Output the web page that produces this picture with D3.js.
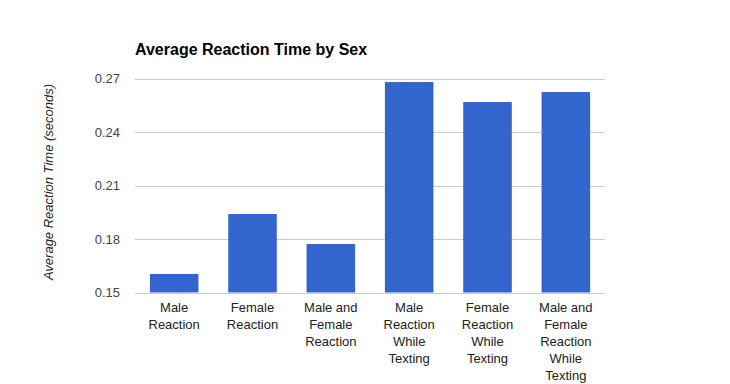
<html>
<style>
    body { margin: 0; background: #fff; }
    text { font-family: Arial, "Liberation Sans", sans-serif; }
</style>
<body>
<script src="https://d3js.org/d3.v7.min.js"></script>
<script>
// data
const categories = [
    "Male Reaction",
    "Female Reaction",
    "Male and Female Reaction",
    "Male Reaction While Texting",
    "Female Reaction While Texting",
    "Male and Female Reaction While Texting"
];
// wrapped x labels as they appear
const labelLines = [
    ["Male", "Reaction"],
    ["Female", "Reaction"],
    ["Male and", "Female", "Reaction"],
    ["Male", "Reaction", "While", "Texting"],
    ["Female", "Reaction", "While", "Texting"],
    ["Male and", "Female", "Reaction", "While", "Texting"]
];
const values = [0.1604, 0.1940, 0.1772, 0.2680, 0.2568, 0.2624];
const yTicks = [0.15, 0.18, 0.21, 0.24, 0.27];

const W = 730, H = 384;
const plot = {left: 135, right: 605, top: 78.5, bottom: 292.5};

const svg = d3.select("body").append("svg")
    .attr("width", W)
    .attr("height", H);

const x = d3.scaleBand().domain(categories)
    .range([plot.left, plot.right])
    .paddingInner(0.38).paddingOuter(0.19);
const y = d3.scaleLinear().domain([0.15, 0.27]).range([plot.bottom, plot.top]);

// title
svg.append("text")
    .attr("x", 135).attr("y", 55)
    .attr("font-size", 16).attr("font-weight", "bold")
    .attr("fill", "#000")
    .text("Average Reaction Time by Sex");

// gridlines + y labels
const yAxis = d3.axisLeft(y).tickValues(yTicks)
    .tickSize(-(plot.right - plot.left))
    .tickPadding(15)
    .tickFormat(d3.format(".2f"));
const ga = svg.append("g")
    .attr("transform", `translate(${plot.left},0)`)
    .call(yAxis);
ga.select(".domain").remove();
ga.selectAll(".tick line").attr("stroke", "#ccc").attr("shape-rendering", "crispEdges");
ga.selectAll(".tick text")
    .attr("font-family", "Arial, 'Liberation Sans', sans-serif")
    .attr("font-size", 13).attr("fill", "#444");

// axis title
svg.append("text")
    .attr("transform", "translate(53,182) rotate(-90)")
    .attr("text-anchor", "middle")
    .attr("font-size", 13).attr("font-style", "italic")
    .attr("fill", "#222")
    .text("Average Reaction Time (seconds)");

// bars
svg.selectAll("rect.bar")
    .data(values)
    .join("rect")
    .attr("class", "bar")
    .attr("x", (d, i) => x(categories[i]))
    .attr("width", x.bandwidth())
    .attr("y", d => y(d))
    .attr("height", d => y(0.15) - y(d))
    .attr("fill", "#3366cc");

// baseline
svg.append("line")
    .attr("x1", plot.left).attr("x2", plot.right)
    .attr("y1", Math.round(y(0.15)) + 0.5).attr("y2", Math.round(y(0.15)) + 0.5)
    .attr("stroke", "#ccc");

// x labels
const xl = svg.append("g").selectAll("text")
    .data(labelLines)
    .join("text")
    .attr("text-anchor", "middle")
    .attr("font-size", 13)
    .attr("fill", "#222");
xl.each(function(lines, i) {
    const cx = x(categories[i]) + x.bandwidth() / 2;
    d3.select(this).selectAll("tspan")
        .data(lines)
        .join("tspan")
        .attr("x", cx)
        .attr("y", (d, j) => 312 + j * 17)
        .text(d => d);
});
</script>
</body>
</html>
